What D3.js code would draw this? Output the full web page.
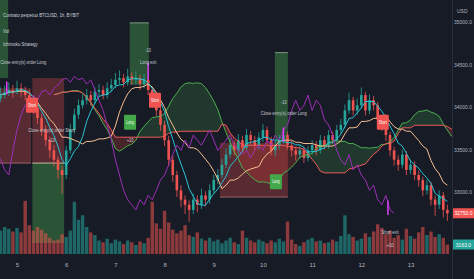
<!DOCTYPE html>
<html>
<head>
<meta charset="utf-8">
<script src="https://cdn.jsdelivr.net/npm/d3@7"></script>
<style>
  html, body { margin: 0; padding: 0; background: #171b26; overflow: hidden; }
  svg { display: block; }
  text { font-family: "Liberation Sans", Arial, sans-serif; }
</style>
</head>
<body>
<div id="chart"></div>
<script>
// 2h bars starting here
const startTime = "2021-07-04T16:00";
const firstOpen = 34100;

const closes = [34140,34170,34200,34180,34220,34190,34140,34080,33990,33870,
  33730,33610,33490,33380,33260,33200,33490,33730,33910,34020,
  34080,34140,34080,34180,34200,34140,34220,34260,34320,34340,
  34290,34360,34320,34340,34270,34320,34200,34080,33960,33790,
  33610,33380,33200,33020,32910,32850,32790,32910,32850,32960,
  32910,33020,33140,33200,33320,33440,33550,33490,33610,33520,
  33670,33610,33550,33640,33730,33610,33490,33550,33610,33670,
  33550,33490,33440,33490,33400,33490,33550,33490,33610,33550,
  33670,33610,33730,33790,33960,34080,33960,34020,34140,33960,
  34080,34020,33850,33790,33670,33490,33380,33320,33440,33260,
  33320,33200,33140,33020,33080,32910,32850,32960,32790,32750];

const highs = [34230,34250,34290,34260,34310,34280,34240,34200,34120,34030,
  33920,33780,33650,33550,33420,33310,33540,33800,33980,34090,
  34150,34210,34190,34230,34270,34250,34290,34330,34400,34430,
  34390,34450,34410,34420,34380,34390,34350,34240,34120,34000,
  33840,33660,33430,33250,33080,32960,32900,32980,32960,33040,
  33010,33090,33200,33270,33390,33510,33630,33600,33680,33660,
  33740,33720,33660,33700,33800,33770,33650,33600,33670,33740,
  33710,33600,33540,33550,33530,33540,33610,33600,33670,33660,
  33730,33710,33790,33860,34030,34170,34120,34100,34230,34180,
  34150,34130,34060,33900,33830,33710,33530,33430,33500,33480,
  33380,33360,33250,33180,33140,33120,32960,33020,33000,32850];

const lows = [34060,34100,34130,34110,34150,34120,34080,34020,33920,33800,
  33660,33540,33400,33300,33150,32980,33150,33450,33690,33860,
  33980,34030,34010,34040,34120,34090,34100,34180,34220,34270,
  34230,34250,34260,34270,34200,34220,34140,34020,33890,33720,
  33540,33300,33120,32940,32820,32740,32650,32740,32760,32800,
  32830,32860,32980,33090,33160,33280,33400,33430,33450,33470,
  33480,33550,33490,33500,33590,33560,33430,33420,33500,33570,
  33500,33420,33370,33390,33340,33360,33440,33430,33450,33500,
  33510,33560,33580,33690,33750,33920,33900,33910,33980,33900,
  33920,33960,33790,33720,33600,33420,33310,33250,33280,33200,
  33210,33140,33060,32950,32970,32840,32720,32800,32700,32660];

const volumes = [7800,9000,8400,7500,8700,7200,17700,9600,7800,9000,
  8100,6900,5400,4500,4800,6600,5700,7800,17400,11400,
  12900,9000,7200,6300,4500,3900,5100,3600,4800,4200,
  3300,4500,3900,3000,4200,3600,5400,17400,10200,8400,
  14400,10500,8100,6900,7800,9600,6300,5700,7200,5100,
  4500,5400,4200,4800,3600,4500,5400,3900,3300,7800,
  5400,4500,3900,4800,4200,3600,4500,3900,5100,4200,
  10800,4800,3300,2700,3900,4800,5400,4200,4500,3600,
  3900,4800,4200,6000,12900,6600,5700,4500,5100,6900,
  5700,7500,9900,8700,6600,7800,5400,6300,4800,8400,
  6000,5100,7200,9000,6300,7500,5700,6600,5400,3163];

const priceTicks = [35000, 34500, 34000, 33500, 33000];
const lastPrice = 32750;

// strategy position boxes
const boxes = [
  { from: "2021-07-04T12:00", to: "2021-07-04T19:40", top: 35400, bottom: 34340, result: "win" },
  { from: "2021-07-04T12:00", to: "2021-07-05T06:50", top: 34220, bottom: 33340, result: "loss" },
  { from: "2021-07-05T07:30", to: "2021-07-05T23:00", top: 34340, bottom: 33340, result: "loss" },
  { from: "2021-07-05T07:30", to: "2021-07-05T23:00", top: 33340, bottom: 32400, result: "win" },
  { from: "2021-07-07T07:00", to: "2021-07-07T16:20", top: 34990, bottom: 34260, result: "win" },
  { from: "2021-07-09T03:00", to: "2021-07-10T12:10", top: 33580, bottom: 32940, result: "loss" },
  { from: "2021-07-10T05:50", to: "2021-07-10T12:10", top: 34640, bottom: 33580, result: "win" }
];

const signals = [
  { time: "2021-07-05T07:20", price: 34020, text: "Short", side: "short" },
  { time: "2021-07-07T07:10", price: 33820, text: "Long", side: "long" },
  { time: "2021-07-07T19:20", price: 34080, text: "Short", side: "short" },
  { time: "2021-07-10T06:20", price: 33120, text: "Long", side: "long" },
  { time: "2021-07-12T10:30", price: 33820, text: "Short", side: "short" }
];

const notes = [
  { time: "2021-07-05T03:00", price: 34530, text: "Close entry(s) order Long" },
  { time: "2021-07-05T16:50", price: 33730, text: "Close entry(s) order Short" },
  { time: "2021-07-05T16:50", price: 33610, text: "+10" },
  { time: "2021-07-07T07:10", price: 33610, text: "+10" },
  { time: "2021-07-07T16:00", price: 34670, text: "-10" },
  { time: "2021-07-07T16:00", price: 34530, text: "Long exit" },
  { time: "2021-07-10T10:10", price: 34060, text: "-10" },
  { time: "2021-07-10T10:10", price: 33930, text: "Close entry(s) order Long" },
  { time: "2021-07-12T14:00", price: 32530, text: "Short exit" },
  { time: "2021-07-12T14:00", price: 32380, text: "+10" }
];

const arrows = [
  { time: "2021-07-04T19:00", from: 34300, to: 34150 },
  { time: "2021-07-07T16:00", from: 34520, to: 34320 },
  { time: "2021-07-10T10:00", from: 33760, to: 33590 },
  { time: "2021-07-12T13:00", from: 32900, to: 32730 }
];

const width = 474, height = 279;
const plotRight = 452, plotBottom = 257;

const parseTime = d3.timeParse("%Y-%m-%dT%H:%M");
const t0 = parseTime(startTime);
const bars = closes.map((c, i) => ({
  t: d3.timeHour.offset(t0, 2 * i),
  o: i === 0 ? firstOpen : closes[i - 1],
  h: highs[i], l: lows[i], c: c, v: volumes[i]
}));

const x = d3.scaleTime()
  .domain([parseTime("2021-07-05T00:00"), parseTime("2021-07-13T00:00")])
  .range([17, 410.5]);
const y = d3.scaleLinear().domain([35000, 33000]).range([22, 192]);
const yVol = d3.scaleLinear().domain([0, 18000]).range([254, 200]);

// ichimoku, periods in 2h bars (9h / 26h / 52h)
function mid(p, i) {
  const s = Math.max(0, i - p + 1);
  return (d3.max(highs.slice(s, i + 1)) + d3.min(lows.slice(s, i + 1))) / 2;
}
const tenkan = bars.map((b, i) => ({ t: b.t, v: mid(5, i) }));
const kijun = bars.map((b, i) => ({ t: b.t, v: mid(13, i) }));
const spanA = bars.map((b, i) => ({ t: d3.timeHour.offset(b.t, 26), v: (tenkan[i].v + kijun[i].v) / 2 }));
const spanB = bars.map((b, i) => ({ t: d3.timeHour.offset(b.t, 26), v: mid(26, i) }));
const chikou = bars.map(b => ({ t: d3.timeHour.offset(b.t, -26), v: b.c }));

const svg = d3.select("#chart").append("svg")
  .attr("width", width)
  .attr("height", height);

svg.append("rect").attr("width", width).attr("height", height).attr("fill", "#171b26");

svg.append("defs").append("clipPath").attr("id", "plot")
  .append("rect").attr("width", plotRight).attr("height", plotBottom);

const plot = svg.append("g").attr("clip-path", "url(#plot)");

// BOXES
boxes.forEach(b => {
  const x0 = x(parseTime(b.from)), x1 = x(parseTime(b.to));
  plot.append("rect")
    .attr("x", x0).attr("y", y(b.top))
    .attr("width", x1 - x0).attr("height", y(b.bottom) - y(b.top))
    .attr("fill", b.result === "win" ? "rgba(76,175,80,0.38)" : "rgba(239,83,80,0.3)");
  plot.append("line")
    .attr("x1", x0).attr("x2", x1)
    .attr("y1", b.result === "win" ? y(b.top) : y(b.bottom))
    .attr("y2", b.result === "win" ? y(b.top) : y(b.bottom))
    .attr("stroke", b.result === "win" ? "rgba(200,235,200,0.55)" : "rgba(255,160,160,0.5)")
    .attr("stroke-width", 1);
});

// VOLUME
plot.selectAll(".vol")
  .data(bars)
  .enter()
  .append("rect")
  .attr("x", d => x(d.t) - 1.7)
  .attr("y", d => yVol(d.v))
  .attr("width", 3.4)
  .attr("height", d => yVol(0) - yVol(d.v))
  .attr("fill", d => d.c >= d.o ? "rgba(38,166,154,0.55)" : "rgba(239,83,80,0.55)");

// CLOUD
const runs = [];
let cur = null;
for (let j = 0; j < spanA.length - 1; j++) {
  const up = spanA[j].v + spanA[j + 1].v >= spanB[j].v + spanB[j + 1].v;
  if (!cur || cur.up !== up) { cur = { up: up, idx: [j] }; runs.push(cur); }
  cur.idx.push(j + 1);
}
const cloud = d3.area()
  .x(j => x(spanA[j].t))
  .y0(j => y(spanA[j].v))
  .y1(j => y(spanB[j].v));
runs.forEach(r => {
  plot.append("path")
    .attr("d", cloud(r.idx))
    .attr("fill", r.up ? "rgba(67,160,71,0.22)" : "rgba(244,67,54,0.22)");
});

// CANDLES
const candles = plot.selectAll(".candle")
  .data(bars)
  .enter()
  .append("g");
candles.append("line")
  .attr("x1", d => x(d.t)).attr("x2", d => x(d.t))
  .attr("y1", d => y(d.h)).attr("y2", d => y(d.l))
  .attr("stroke", d => d.c >= d.o ? "#26a69a" : "#ef5350")
  .attr("stroke-width", 0.8);
candles.append("rect")
  .attr("x", d => x(d.t) - 1.3)
  .attr("y", d => y(Math.max(d.o, d.c)))
  .attr("width", 2.6)
  .attr("height", d => Math.max(0.8, Math.abs(y(d.o) - y(d.c))))
  .attr("fill", d => d.c >= d.o ? "#26a69a" : "#ef5350");

// LINES
const line = d3.line().x(d => x(d.t)).y(d => y(d.v));
[[spanA, "#4caf50"], [spanB, "#f05a5a"], [kijun, "#f6c08f"], [tenkan, "#2ac3d6"], [chikou, "#9c2fb5"]]
  .forEach(([data, color]) => {
    plot.append("path")
      .attr("d", line(data))
      .attr("fill", "none")
      .attr("stroke", color)
      .attr("stroke-width", 1);
  });

// ARROWS
arrows.forEach(a => {
  plot.append("line")
    .attr("x1", x(parseTime(a.time))).attr("x2", x(parseTime(a.time)))
    .attr("y1", y(a.from)).attr("y2", y(a.to))
    .attr("stroke", "#e040fb").attr("stroke-width", 1.5);
});

// SIGNAL LABELS
signals.forEach(s => {
  const cx = x(parseTime(s.time)), cy = y(s.price);
  plot.append("rect")
    .attr("x", cx - 6).attr("y", cy - 7.5)
    .attr("width", 12).attr("height", 15)
    .attr("rx", 1)
    .attr("fill", s.side === "long" ? "#43a84a" : "#f05350");
  plot.append("text")
    .attr("transform", `translate(${cx},${cy + 1.5}) scale(0.75,1)`)
    .attr("text-anchor", "middle")
    .attr("fill", "#ffffff")
    .style("font-size", "4.5px")
    .text(s.text);
});

// NOTES
notes.forEach(n => {
  plot.append("text")
    .attr("transform", `translate(${x(parseTime(n.time))},${y(n.price) + 2})`+ " scale(0.7,1)")
    .attr("text-anchor", "middle")
    .attr("fill", "#c9ccd4")
    .style("font-size", "5.8px")
    .text(n.text);
});

// LEGEND
const legend = [["Contrato perpetuo BTCUSD, 1h, BYBIT", 17], ["Vol", 33], ["Ichimoku Strategy", 46]];
legend.forEach(([t, ty]) => {
  svg.append("text")
    .attr("transform", `translate(3,${ty}) scale(0.75,1)`)
    .attr("fill", "#d1d4dc")
    .style("font-size", "5.8px")
    .text(t);
});

// AXES
svg.append("line")
  .attr("x1", plotRight + 0.5).attr("x2", plotRight + 0.5)
  .attr("y1", 0).attr("y2", height)
  .attr("stroke", "#2a2e39");

const yAxis = svg.append("g")
  .attr("transform", `translate(${plotRight + 2},0)`)
  .call(d3.axisRight(y).tickValues(priceTicks).tickFormat(d3.format(".1f")).tickSize(0).tickPadding(0));
yAxis.select(".domain").remove();
yAxis.selectAll("text").attr("fill", "#b2b5be").style("font-size", "5px");

svg.append("text")
  .attr("x", plotRight + 5).attr("y", 13)
  .attr("fill", "#b2b5be")
  .style("font-size", "5px")
  .text("USD");

const xAxis = svg.append("g")
  .attr("transform", `translate(0,${plotBottom + 4})`)
  .call(d3.axisBottom(x).ticks(d3.timeDay.every(1)).tickFormat(d3.timeFormat("%-d")).tickSize(0).tickPadding(2));
xAxis.select(".domain").remove();
xAxis.selectAll("text").attr("fill", "#b2b5be").style("font-size", "6px");

// last price / volume tags
const last = bars[bars.length - 1];
[[y(lastPrice), "#f05350", d3.format(".1f")(lastPrice)], [yVol(last.v), "#26a69a", d3.format(".1f")(last.v)]]
  .forEach(([ty, color, label]) => {
    svg.append("rect")
      .attr("x", plotRight + 1).attr("y", ty - 5)
      .attr("width", width - plotRight - 1).attr("height", 10)
      .attr("fill", color);
    svg.append("text")
      .attr("x", (plotRight + width) / 2 + 0.5).attr("y", ty + 2)
      .attr("text-anchor", "middle")
      .attr("fill", "#ffffff")
      .style("font-size", "5px")
      .text(label);
  });
</script>
</body>
</html>
